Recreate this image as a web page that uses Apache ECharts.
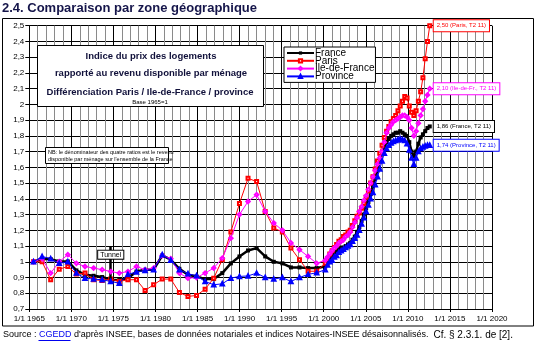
<!DOCTYPE html>
<html>
<head>
<meta charset="utf-8">
<script src="https://cdn.jsdelivr.net/npm/echarts@6/dist/echarts.min.js"></script>
<style>
  html, body { margin: 0; padding: 0; background: #fff; }
  #c { width: 537px; height: 346px; }
</style>
</head>
<body>
<div id="c"></div>
<script>
// Annual observations 1965-1999 and quarterly observations 2000 T1 - 2011 T2.
// Positions on the time axis (decimal years) for each observation.
const annualDates = [1965.50, 1966.52, 1967.54, 1968.56, 1969.58, 1970.60, 1971.62, 1972.64, 1973.66, 1974.68,
  1975.70, 1976.72, 1977.74, 1978.76, 1979.78, 1980.80, 1981.82, 1982.84, 1983.86, 1984.88,
  1985.90, 1986.92, 1987.94, 1988.96, 1989.98, 1991.00, 1992.02, 1993.04, 1994.06, 1995.08,
  1996.10, 1997.12, 1998.14, 1999.16, 2000.18];
const quarterDates = [2000.45, 2000.72, 2000.99, 2001.26, 2001.53, 2001.80, 2002.07, 2002.34, 2002.61, 2002.88,
  2003.15, 2003.42, 2003.69, 2003.96, 2004.23, 2004.50, 2004.77, 2005.04, 2005.31, 2005.58,
  2005.85, 2006.12, 2006.39, 2006.66, 2006.93, 2007.20, 2007.47, 2007.74, 2008.01, 2008.28,
  2008.55, 2008.82, 2009.09, 2009.36, 2009.63, 2009.90, 2010.17, 2010.44, 2010.71, 2010.98,
  2011.25, 2011.52, 2011.79, 2012.06, 2012.33, 2012.60];
const lastPeriod = 'T2 11';

// Index values, base 1965 = 1
const franceAnnual = [1.00, 1.017, 1.017, 1.002, 1.002, 0.945, 0.917, 0.911, 0.903, 0.886,
  0.884, 0.896, 0.938, 0.949, 0.95, 1.04, 1.013, 0.955, 0.917, 0.907,
  0.89, 0.89, 0.928, 0.99, 1.034, 1.072, 1.087, 1.034, 1.0, 0.99,
  0.964, 0.964, 0.96, 0.96, 0.97];
const franceQuarterly = [0.99, 1.02, 1.04, 1.06, 1.07, 1.08, 1.09, 1.09, 1.10, 1.11,
  1.12, 1.14, 1.16, 1.19, 1.22, 1.26, 1.30, 1.34, 1.38, 1.43,
  1.48, 1.53, 1.58, 1.64, 1.69, 1.73, 1.76, 1.78, 1.80, 1.81,
  1.82, 1.82, 1.83, 1.82, 1.81, 1.80, 1.76, 1.70, 1.67, 1.70,
  1.75, 1.79, 1.81, 1.83, 1.85, 1.86];

const parisAnnual = [1.00, 1.00, 0.886, 0.953, 0.97, 0.922, 0.928, 0.886, 0.881, 0.89,
  0.875, 0.886, 0.886, 0.818, 0.854, 0.89, 0.89, 0.805, 0.78, 0.786,
  0.826, 0.896, 1.013, 1.19, 1.37, 1.53, 1.51, 1.32, 1.214, 1.19,
  1.087, 1.013, 0.94, 0.94, 0.99];
const parisQuarterly = [1.02, 1.05, 1.07, 1.09, 1.11, 1.13, 1.14, 1.16, 1.17, 1.19,
  1.20, 1.23, 1.26, 1.29, 1.31, 1.34, 1.37, 1.41, 1.45, 1.50,
  1.54, 1.59, 1.64, 1.69, 1.74, 1.79, 1.83, 1.86, 1.89, 1.91,
  1.93, 1.96, 1.99, 2.02, 2.05, 2.04, 1.99, 1.95, 1.93, 1.96,
  2.02, 2.08, 2.17, 2.29, 2.40, 2.50];

const idfAnnual = [1.00, 1.02, 0.928, 1.00, 1.045, 0.99, 0.97, 0.96, 0.95, 0.938,
  0.928, 0.938, 0.97, 0.95, 0.96, 1.04, 1.02, 0.928, 0.896, 0.90,
  0.928, 0.96, 1.023, 1.15, 1.30, 1.383, 1.426, 1.32, 1.246, 1.20,
  1.12, 1.076, 1.034, 0.99, 1.01];
const idfQuarterly = [1.03, 1.05, 1.07, 1.087, 1.10, 1.12, 1.13, 1.14, 1.16, 1.17,
  1.19, 1.22, 1.25, 1.28, 1.32, 1.35, 1.39, 1.42, 1.46, 1.50,
  1.54, 1.58, 1.62, 1.66, 1.70, 1.76, 1.82, 1.85, 1.87, 1.89,
  1.90, 1.91, 1.92, 1.93, 1.93, 1.92, 1.90, 1.85, 1.80, 1.83,
  1.88, 1.93, 1.97, 2.02, 2.06, 2.10];

const provinceAnnual = [1.00, 1.034, 1.02, 0.99, 1.00, 0.928, 0.896, 0.89, 0.886, 0.875,
  0.864, 0.92, 0.935, 0.945, 0.95, 1.045, 1.01, 0.95, 0.924, 0.911,
  0.875, 0.854, 0.86, 0.896, 0.907, 0.91, 0.928, 0.90, 0.89, 0.90,
  0.875, 0.90, 0.92, 0.93, 0.95];
const provinceQuarterly = [0.98, 1.00, 1.01, 1.03, 1.04, 1.06, 1.07, 1.08, 1.09, 1.10,
  1.11, 1.13, 1.15, 1.17, 1.20, 1.24, 1.28, 1.32, 1.36, 1.40,
  1.44, 1.49, 1.54, 1.59, 1.64, 1.69, 1.72, 1.74, 1.755, 1.765,
  1.77, 1.775, 1.78, 1.775, 1.77, 1.75, 1.71, 1.66, 1.62, 1.66,
  1.70, 1.72, 1.73, 1.735, 1.74, 1.74];

// Axis ticks
const xTickYears = [1965, 1970, 1975, 1980, 1985, 1990, 1995, 2000, 2005, 2010, 2015, 2020];
const yMin = 0.7, yMax = 2.5, yStep = 0.1;

// "Tunnel" marker on the France curve
const tunnelDate = 1974.68;
const tunnelRange = [0.886, 1.097];
const tunnelLabelValue = 1.045;

const FONT = 'Arial, "Liberation Sans", sans-serif';
const allDates = annualDates.concat(quarterDates);
const toPairs = (vals) => allDates.map((d, i) => [d, vals[i]]);

function endLabel(name, color) {
  return {
    show: true,
    formatter: (p) => p.value[1].toFixed(2).replace('.', ',') + ' (' + name + ', ' + lastPeriod + ')',
    color: color,
    fontFamily: FONT,
    fontSize: 6,
    backgroundColor: '#fff',
    borderColor: color,
    borderWidth: 1,
    padding: [3, 3, 2, 3],
    distance: 4
  };
}

const TOP = 100;
const chart = echarts.init(document.getElementById('c'));
chart.setOption({
  animation: false,
  backgroundColor: '#fff',
  textStyle: { fontFamily: FONT },
  grid: { left: 29.3, right: 45, top: 25.7, bottom: 37, containLabel: false },
  xAxis: {
    type: 'value',
    min: xTickYears[0],
    max: xTickYears[xTickYears.length - 1],
    interval: xTickYears[1] - xTickYears[0],
    axisLine: { lineStyle: { color: '#000', width: 1 } },
    axisTick: { show: true, length: 3, lineStyle: { color: '#000' } },
    axisLabel: { formatter: (v) => '1/1 ' + v, fontSize: 8, color: '#000', margin: 6, fontFamily: FONT },
    splitLine: { show: true, lineStyle: { color: '#000', width: 1 } },
    minorTick: { show: false, splitNumber: 5 },
    minorSplitLine: { show: true, lineStyle: { color: '#8a8a8a', width: 1 } }
  },
  yAxis: {
    type: 'value',
    min: yMin,
    max: yMax,
    interval: yStep,
    axisLine: { show: true, lineStyle: { color: '#000', width: 1 } },
    axisTick: { show: true, length: 4, lineStyle: { color: '#000' } },
    axisLabel: { formatter: (v) => String(+v.toFixed(1)).replace('.', ','), fontSize: 8, color: '#000', margin: 5, fontFamily: FONT },
    splitLine: { show: true, lineStyle: { color: '#000', width: 1 } }
  },
  legend: {
    data: ['France', 'Paris', 'Ile-de-France', 'Province'],
    orient: 'vertical',
    left: 284,
    top: 47,
    itemWidth: 27,
    itemHeight: 4,
    itemGap: -2.2,
    padding: [1, 1, 1, 2],
    backgroundColor: '#fff',
    borderColor: '#000',
    borderWidth: 1,
    borderRadius: 0,
    z: TOP,
    textStyle: { fontSize: 10, color: '#000', fontFamily: FONT, padding: [0, 0, 0, -4] }
  },
  series: [
    {
      name: 'France', type: 'line', data: toPairs(franceAnnual.concat(franceQuarterly)),
      color: '#000', lineStyle: { width: 2.5, color: '#000' },
      symbol: 'rect', symbolSize: 4, itemStyle: { color: '#000' },
      endLabel: endLabel('France', '#000'),
      markLine: {
        silent: true, symbol: ['none', 'none'], label: { show: false },
        lineStyle: { color: '#000', width: 2.5, type: 'solid' },
        data: [[{ coord: [tunnelDate, tunnelRange[0]] }, { coord: [tunnelDate, tunnelRange[1]] }]]
      },
      markPoint: {
        silent: true, symbol: 'rect', symbolSize: 0,
        data: [{ coord: [tunnelDate, tunnelLabelValue], value: 'Tunnel' }],
        label: {
          show: true, formatter: 'Tunnel', color: '#000', fontSize: 7, fontFamily: FONT,
          backgroundColor: '#fff', borderColor: '#000', borderWidth: 1, padding: [1, 2, 0, 2]
        }
      },
      z: 3
    },
    {
      name: 'Paris', type: 'line', data: toPairs(parisAnnual.concat(parisQuarterly)),
      color: '#ff0000', lineStyle: { width: 1, color: '#ff0000' },
      symbol: 'emptyRect', symbolSize: 3, itemStyle: { color: '#ff0000', borderWidth: 1 },
      endLabel: endLabel('Paris', '#ff0000'), z: 4
    },
    {
      name: 'Ile-de-France', type: 'line', data: toPairs(idfAnnual.concat(idfQuarterly)),
      color: '#ff00ff', lineStyle: { width: 1, color: '#ff00ff' },
      symbol: 'emptyDiamond', symbolSize: 3.5, itemStyle: { color: '#ff00ff', borderWidth: 1 },
      endLabel: endLabel('Ile-de-Fr.', '#ff00ff'), z: 5
    },
    {
      name: 'Province', type: 'line', data: toPairs(provinceAnnual.concat(provinceQuarterly)),
      color: '#0000ff', lineStyle: { width: 1, color: '#0000ff' },
      symbol: 'emptyTriangle', symbolSize: 3.5, itemStyle: { color: '#0000ff', borderWidth: 1 },
      endLabel: endLabel('Province', '#0000ff'), z: 6
    }
  ],
  graphic: [
    // page heading
    { type: 'text', left: 2, top: 2, z: TOP,
      style: { text: '2.4. Comparaison par zone géographique', font: 'bold 13px ' + FONT, fill: '#15154a' } },
    // chart frame
    { type: 'rect', z: 0, silent: true,
      shape: { x: 2.5, y: 18.5, width: 531, height: 307.5 },
      style: { fill: 'none', stroke: '#000', lineWidth: 1 } },
    // title box
    { type: 'rect', z: TOP, shape: { x: 37.5, y: 45.5, width: 226, height: 61 },
      style: { fill: '#fff', stroke: '#000', lineWidth: 1 } },
    { type: 'text', z: TOP + 1, x: 151, y: 56, style: { text: 'Indice du prix des logements', font: 'bold 9.5px ' + FONT, fill: '#10103a', align: 'center', verticalAlign: 'middle' } },
    { type: 'text', z: TOP + 1, x: 151, y: 73.5, style: { text: 'rapporté au revenu disponible par ménage', font: 'bold 9.5px ' + FONT, fill: '#10103a', align: 'center', verticalAlign: 'middle' } },
    { type: 'text', z: TOP + 1, x: 150, y: 92, style: { text: 'Différenciation Paris / Ile-de-France / province', font: 'bold 9.5px ' + FONT, fill: '#10103a', align: 'center', verticalAlign: 'middle' } },
    { type: 'text', z: TOP + 1, x: 150, y: 102, style: { text: 'Base 1965=1', font: '6px ' + FONT, fill: '#000', align: 'center', verticalAlign: 'middle' } },
    // note box
    { type: 'rect', z: TOP, shape: { x: 45.5, y: 147.5, width: 123, height: 16 },
      style: { fill: '#fff', stroke: '#000', lineWidth: 1 } },
    { type: 'text', z: TOP + 1, x: 48, y: 152, style: { text: 'NB: le dénominateur des quatre ratios est le revenu', font: '5.5px ' + FONT, fill: '#000', verticalAlign: 'middle' } },
    { type: 'text', z: TOP + 1, x: 48, y: 159, style: { text: 'disponible par ménage sur l\'ensemble de la France', font: '5.5px ' + FONT, fill: '#000', verticalAlign: 'middle' } },
    // source line
    { type: 'text', left: 3, top: 330, z: TOP,
      style: {
        text: '{s|Source : }{l|CGEDD}{s| d\'après INSEE, bases de données notariales et indices Notaires-INSEE désaisonnalisés.  }{c|Cf. § 2.3.1. de [2].}',
        rich: {
          s: { fontSize: 9, fontFamily: FONT, fill: '#000' },
          l: { fontSize: 9, fontFamily: FONT, fill: '#0000ee' },
          c: { fontSize: 10, fontFamily: FONT, fill: '#000' }
        }
      } },
    { type: 'line', z: TOP, shape: { x1: 38.5, y1: 340.5, x2: 70.5, y2: 340.5 }, style: { stroke: '#0000ee', lineWidth: 1 } }
  ]
});
</script>
</body>
</html>
